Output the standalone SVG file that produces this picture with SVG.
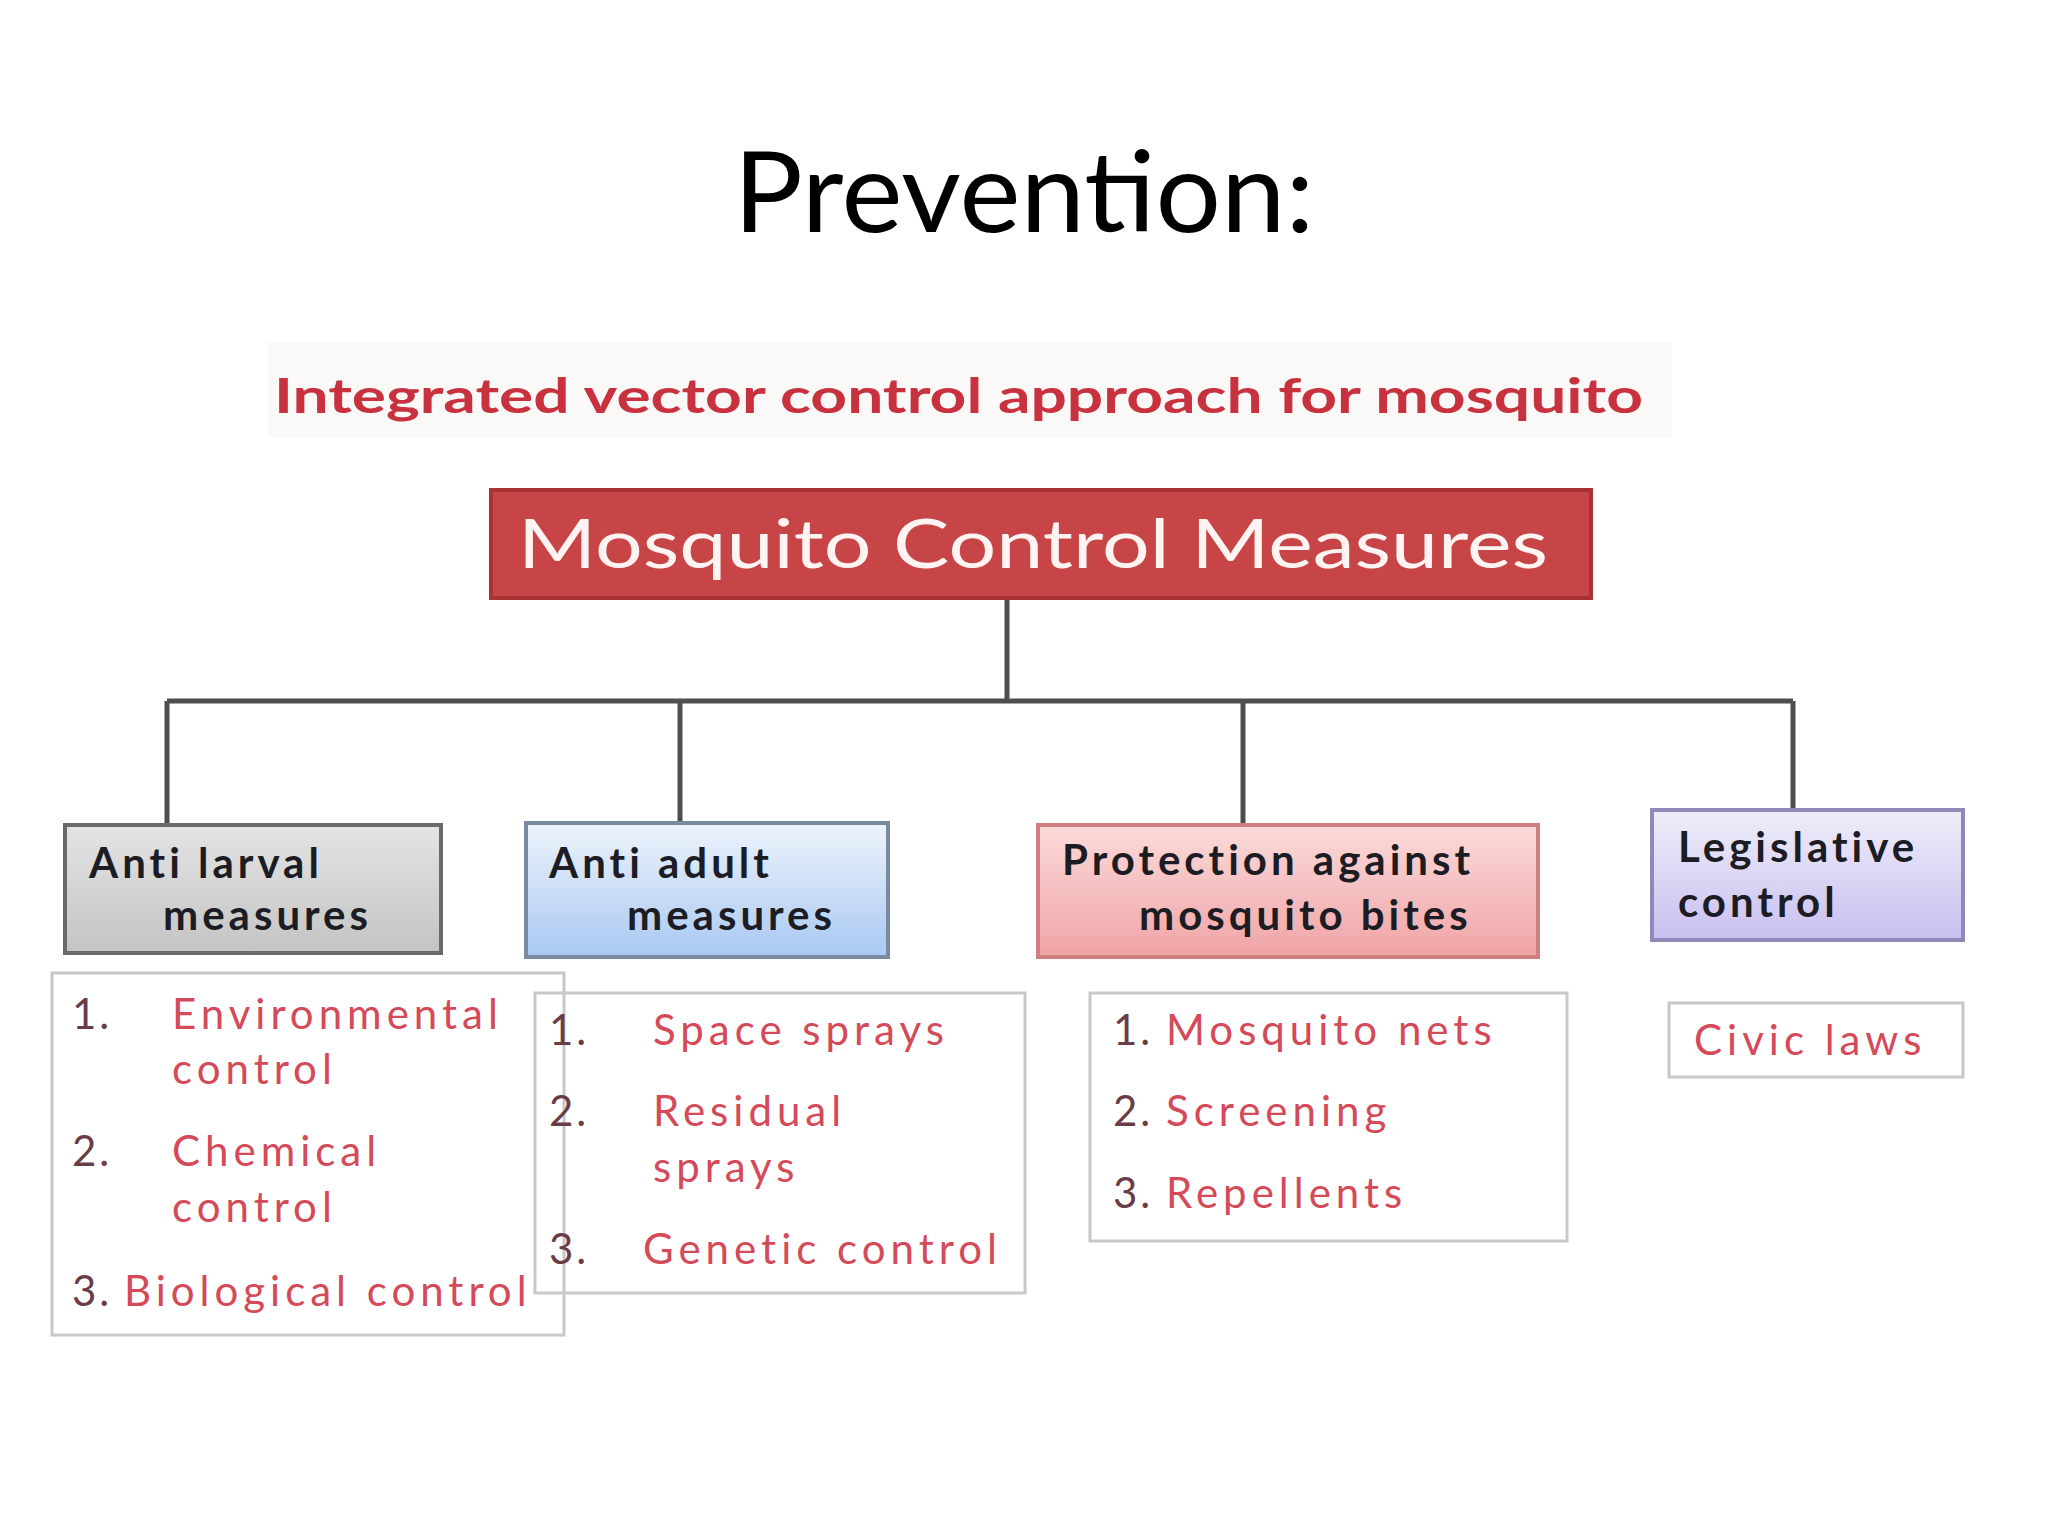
<svg xmlns="http://www.w3.org/2000/svg" width="2048" height="1536" viewBox="0 0 2048 1536">
<defs>
<linearGradient id="gGray" x1="0" y1="0" x2="0" y2="1"><stop offset="0" stop-color="#e4e4e4"/><stop offset="1" stop-color="#c4c4c4"/></linearGradient>
<linearGradient id="gBlue" x1="0" y1="0" x2="0" y2="1"><stop offset="0" stop-color="#eef3fb"/><stop offset="1" stop-color="#a9c8f2"/></linearGradient>
<linearGradient id="gPink" x1="0" y1="0" x2="0" y2="1"><stop offset="0" stop-color="#fbdada"/><stop offset="1" stop-color="#f0a4a6"/></linearGradient>
<linearGradient id="gLav" x1="0" y1="0" x2="0" y2="1"><stop offset="0" stop-color="#efedf9"/><stop offset="1" stop-color="#c9c0f0"/></linearGradient>
<style>
.title{font-family:Lato,"Liberation Sans",sans-serif;font-size:112px;fill:#000}
.sub{font-family:Lato,"Liberation Sans",sans-serif;font-weight:bold;font-size:48px;fill:#c8323e}
.main{font-family:Lato,"Liberation Sans",sans-serif;font-size:68px;fill:#fff4f2}
.hdr{font-family:Lato,"Liberation Sans",sans-serif;font-weight:bold;font-size:42px;letter-spacing:4px;fill:#1c1c24}
.item{font-family:Lato,"Liberation Sans",sans-serif;font-size:42px;letter-spacing:5px;fill:#d44a58}
.num{font-family:Lato,"Liberation Sans",sans-serif;font-size:42px;letter-spacing:3px;fill:#6a3c46}
.lbox{fill:#ffffff;stroke:#c8c8cc;stroke-width:3}
.conn{stroke:#4e4e4e;stroke-width:5;fill:none}
</style>
</defs>
<rect width="2048" height="1536" fill="#ffffff"/>
<text class="title" x="1024" y="232" text-anchor="middle" textLength="581" lengthAdjust="spacingAndGlyphs">Prevention:</text>
<rect x="268" y="342" width="1404" height="95" fill="#fbf8f8"/>
<text class="sub" x="274" y="413" textLength="1369" lengthAdjust="spacingAndGlyphs">Integrated vector control approach for mosquito</text>

<g id="connectors">
<path class="conn" d="M1007 598 V701 M167 701 H1793 M167 701 V825 M680 701 V823 M1243 701 V825 M1793 701 V810"/>
</g>

<g id="root">
<rect x="491" y="490" width="1100" height="108" fill="#c84547" stroke="#a83234" stroke-width="4"/>
<text class="main" x="518" y="568" textLength="1030" lengthAdjust="spacingAndGlyphs">Mosquito Control Measures</text>
</g>

<g id="anti-larval">
<rect x="65" y="825" width="376" height="128" fill="url(#gGray)" stroke="#6a6a6a" stroke-width="4"/>
<text class="hdr" x="89" y="878">Anti larval</text>
<text class="hdr" x="163" y="930">measures</text>
</g>
<g id="anti-adult">
<rect x="526" y="823" width="362" height="134" fill="url(#gBlue)" stroke="#7a8aa0" stroke-width="4"/>
<text class="hdr" x="549" y="878">Anti adult</text>
<text class="hdr" x="627" y="930">measures</text>
</g>
<g id="protection">
<rect x="1038" y="825" width="500" height="132" fill="url(#gPink)" stroke="#d08080" stroke-width="4"/>
<text class="hdr" x="1062" y="875">Protection against</text>
<text class="hdr" x="1139" y="930">mosquito bites</text>
</g>
<g id="legislative">
<rect x="1652" y="810" width="311" height="130" fill="url(#gLav)" stroke="#9088b8" stroke-width="4"/>
<text class="hdr" x="1678" y="862">Legislative</text>
<text class="hdr" x="1678" y="917">control</text>
</g>

<g id="list-larval">
<rect class="lbox" x="52" y="973" width="512" height="362"/>
<text class="num" x="72" y="1029">1.</text><text class="item" x="172" y="1029">Environmental</text>
<text class="item" x="172" y="1084">control</text>
<text class="num" x="72" y="1166">2.</text><text class="item" x="172" y="1166">Chemical</text>
<text class="item" x="172" y="1222">control</text>
<text class="num" x="72" y="1306">3.</text><text class="item" x="124" y="1306">Biological control</text>
</g>
<g id="list-adult">
<rect class="lbox" x="535" y="993" width="490" height="300" fill-opacity="0"/>
<text class="num" x="549" y="1045">1.</text><text class="item" x="653" y="1045">Space sprays</text>
<text class="num" x="549" y="1126">2.</text><text class="item" x="653" y="1126">Residual</text>
<text class="item" x="653" y="1182">sprays</text>
<text class="num" x="549" y="1264">3.</text><text class="item" x="643" y="1264">Genetic control</text>
</g>
<g id="list-protection">
<rect class="lbox" x="1090" y="993" width="477" height="248"/>
<text class="num" x="1113" y="1045">1.</text><text class="item" x="1166" y="1045">Mosquito nets</text>
<text class="num" x="1113" y="1126">2.</text><text class="item" x="1166" y="1126">Screening</text>
<text class="num" x="1113" y="1208">3.</text><text class="item" x="1166" y="1208">Repellents</text>
</g>
<g id="list-legislative">
<rect class="lbox" x="1669" y="1003" width="294" height="74"/>
<text class="item" x="1694" y="1055">Civic laws</text>
</g>
</svg>
